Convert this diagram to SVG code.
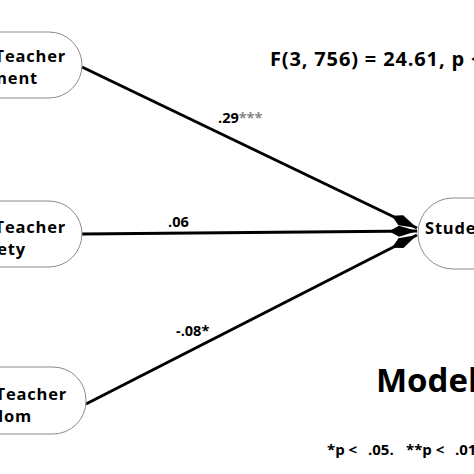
<svg xmlns="http://www.w3.org/2000/svg" width="474" height="474" viewBox="0 0 474 474">
<defs>
<style>
.node{fill:#fff;stroke:#8a8a8a;stroke-width:1}
.t{font-family:"Open Sans","Liberation Sans",sans-serif;font-weight:bold;fill:#000}
.nt{font-size:16.5px;letter-spacing:0.8px}
.lbl{font-size:14.5px}
.edge{stroke:#000;stroke-width:3;fill:none}
</style>
<marker id="ah" markerUnits="userSpaceOnUse" markerWidth="32" markerHeight="14" viewBox="0 -7 30 14" refX="28" refY="0" orient="auto">
<path d="M0,0 L10,-5.5 L28,0 L10,5.5 Z" fill="#000"/>
</marker>
</defs>
<rect width="474" height="474" fill="#fff"/>
<g id="connectors">
<line class="edge" x1="82" y1="67" x2="417" y2="228" marker-end="url(#ah)"/>
<line class="edge" x1="82" y1="234" x2="417" y2="231" marker-end="url(#ah)"/>
<line class="edge" x1="86" y1="404" x2="417" y2="235" marker-end="url(#ah)"/>
<text class="t lbl" x="218" y="123">.29<tspan fill="#888">***</tspan></text>
<text class="t lbl" x="168" y="227">.06</text>
<text class="t lbl" x="176" y="336">-.08*</text>
</g>
<g id="node-top">
<rect class="node" x="-40" y="32" width="122" height="66" rx="33"/>
<text class="t nt" x="66" y="62" text-anchor="end">Teacher</text>
<text class="t nt" x="38" y="84" text-anchor="end">ment</text>
</g>
<g id="node-middle">
<rect class="node" x="-40" y="201" width="122" height="66" rx="33"/>
<text class="t nt" x="66" y="233" text-anchor="end">Teacher</text>
<text class="t nt" x="26" y="255" text-anchor="end">ety</text>
</g>
<g id="node-bottom">
<rect class="node" x="-36" y="367" width="122" height="67" rx="33"/>
<text class="t nt" x="67" y="400" text-anchor="end">Teacher</text>
<text class="t nt" x="32" y="422" text-anchor="end">dom</text>
</g>
<g id="node-student">
<rect class="node" x="418" y="198" width="110" height="71" rx="35"/>
<text class="t nt" x="425" y="234">Stude</text>
</g>
<text class="t" x="270" y="66" font-size="20" letter-spacing="0.85">F(3, 756) = 24.61, p &lt;</text>
<text class="t" x="376" y="392" font-size="33">Model</text>
<text class="t" y="455" font-size="15"><tspan x="327">*p &lt;</tspan><tspan x="368">.05.</tspan><tspan x="406">**p &lt;</tspan><tspan x="455">.01</tspan></text>
</svg>
